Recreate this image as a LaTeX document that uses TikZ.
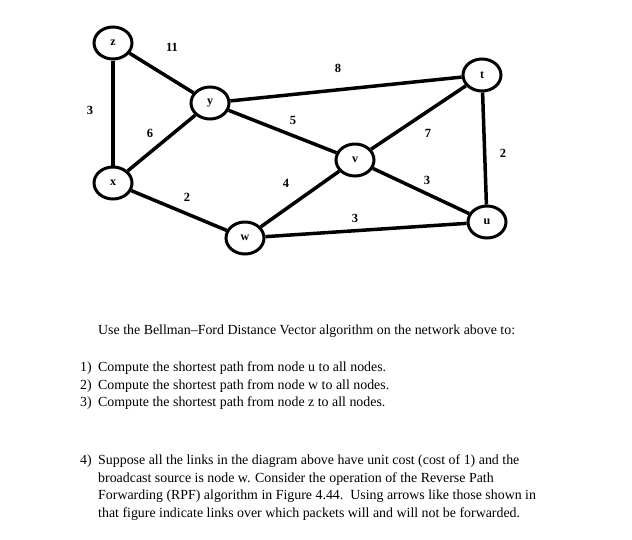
\documentclass[tikz,border=0pt]{standalone}
\usepackage{fontspec}
\setmainfont{Liberation Serif}
\usetikzlibrary{shapes.geometric}
\newcommand{\itm}[1]{\makebox[18pt][l]{#1}}
\begin{document}
\begin{tikzpicture}[x=1pt,y=-1pt,
  nd/.style={ellipse,draw,line width=3pt,minimum width=38pt,minimum height=32pt,inner sep=0pt,font=\fontsize{12}{14}\selectfont\bfseries,fill=white},
  ln/.style={line width=3.5pt},
  lb/.style={font=\fontsize{12.5}{14}\selectfont\bfseries},
  tx/.style={font=\fontsize{13.9}{17.5}\selectfont,anchor=north west,inner sep=0pt,align=left}]
\useasboundingbox (0,0) rectangle (632,539);
\node[nd] (z) at (113,43) {z};
\node[nd] (y) at (210,103) {y};
\node[nd] (x) at (113,183) {x};
\node[nd] (w) at (245,238) {w};
\node[nd] (v) at (355,160) {v};
\node[nd] (t) at (482,75) {t};
\node[nd] (u) at (487,222) {u};
\draw[ln] (z) -- (y);
\draw[ln] (z) -- (x);
\draw[ln] (x) -- (y);
\draw[ln] (y) -- (t);
\draw[ln] (y) -- (v);
\draw[ln] (v) -- (t);
\draw[ln] (t) -- (u);
\draw[ln] (v) -- (u);
\draw[ln] (v) -- (w);
\draw[ln] (x) -- (w);
\draw[ln] (w) -- (u);
\node[lb] (l1) at (172,47) {11};
\node[lb] (l2) at (90,110) {3};
\node[lb] (l3) at (150,133) {6};
\node[lb] (l4) at (338,68) {8};
\node[lb] (l5) at (293,120) {5};
\node[lb] (l6) at (428,133) {7};
\node[lb] (l7) at (503,153) {2};
\node[lb] (l8) at (427,180) {3};
\node[lb] (l9) at (286,183) {4};
\node[lb] (l10) at (187,197) {2};
\node[lb] (l11) at (355,218) {3};
\node[tx] (p0) at (98,325) {Use the Bellman–Ford Distance Vector algorithm on the network above to:};
\node[tx] (p1) at (80,362) {\itm{1)}Compute the shortest path from node u to all nodes.\\
\itm{2)}Compute the shortest path from node w to all nodes.\\
\itm{3)}Compute the shortest path from node z to all nodes.};
\node[tx] (p2) at (80,455) {\itm{4)}Suppose all the links in the diagram above have unit cost (cost of 1) and the\\
\itm{}broadcast source is node w. Consider the operation of the Reverse Path\\
\itm{}Forwarding (RPF) algorithm in Figure 4.44.\ \ Using arrows like those shown in\\
\itm{}that figure indicate links over which packets will and will not be forwarded.};
\end{tikzpicture}
\end{document}
